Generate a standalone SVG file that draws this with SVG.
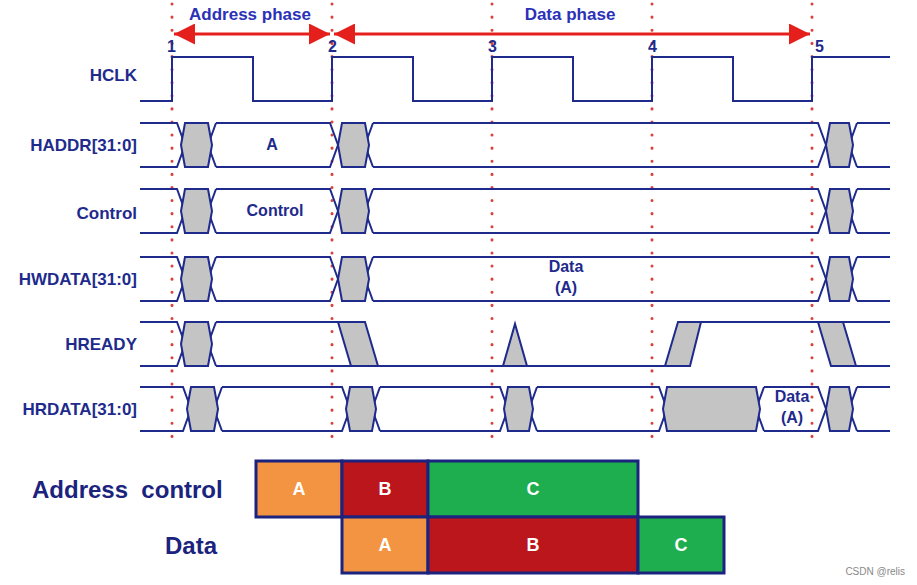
<svg xmlns="http://www.w3.org/2000/svg" width="917" height="585" viewBox="0 0 917 585">
<style>
.w{fill:none;stroke:#1e2a8c;stroke-width:2}
.g{fill:#c4c4c4;stroke:#1e2a8c;stroke-width:2}
.d{stroke:#d9423a;stroke-width:3;stroke-linecap:round;stroke-dasharray:0.1 13}
.lb{font-family:"Liberation Sans",Arial,sans-serif;font-weight:bold;font-size:17px;fill:#1e2a8c}
.n{font-family:"Liberation Sans",Arial,sans-serif;font-weight:bold;font-size:16px;fill:#1e2a8c}
.t{font-family:"Liberation Sans",Arial,sans-serif;font-weight:bold;font-size:16px;fill:#1e2a8c}
.ph{font-family:"Liberation Sans",Arial,sans-serif;font-weight:bold;font-size:17px;fill:#2b31b8}
.bx{stroke:#1b237e;stroke-width:3}
.bt{font-family:"Liberation Sans",Arial,sans-serif;font-weight:bold;font-size:18px;fill:#fff}
.big{font-family:"Liberation Sans",Arial,sans-serif;font-weight:bold;font-size:24px;fill:#1b237e}
</style>
<defs>
<marker id="ah" viewBox="0 0 10 10" refX="10" refY="5" markerWidth="7" markerHeight="7" orient="auto-start-reverse"><path d="M0,0L10,5L0,10z" fill="#e5201c"/></marker>
</defs>
<rect width="917" height="585" fill="#fff"/>
<g id="dots">
<line class="d" x1="172" y1="4" x2="172" y2="448"/>
<line class="d" x1="332" y1="4" x2="332" y2="448"/>
<line class="d" x1="492" y1="4" x2="492" y2="448"/>
<line class="d" x1="652" y1="4" x2="652" y2="448"/>
<line class="d" x1="812" y1="4" x2="812" y2="448"/>
</g>
<g id="phases">
<text class="ph" x="250" y="20" text-anchor="middle">Address phase</text>
<text class="ph" x="570" y="20" text-anchor="middle">Data phase</text>
<line x1="174" y1="34" x2="330" y2="34" stroke="#e5201c" stroke-width="3" marker-start="url(#ah)" marker-end="url(#ah)"/>
<line x1="334" y1="34" x2="810" y2="34" stroke="#e5201c" stroke-width="3" marker-start="url(#ah)" marker-end="url(#ah)"/>
<text class="n" x="167" y="52">1</text><text class="n" x="328" y="52">2</text><text class="n" x="488" y="52">3</text><text class="n" x="648" y="52">4</text><text class="n" x="815" y="52">5</text>
</g>
<g id="labels">
<text class="lb" x="137" y="81" text-anchor="end">HCLK</text>
<text class="lb" x="137" y="151" text-anchor="end">HADDR[31:0]</text>
<text class="lb" x="137" y="219" text-anchor="end">Control</text>
<text class="lb" x="137" y="285" text-anchor="end">HWDATA[31:0]</text>
<text class="lb" x="137" y="350" text-anchor="end">HREADY</text>
<text class="lb" x="137" y="415" text-anchor="end">HRDATA[31:0]</text>
</g>
<g id="hclk"><path class="w" d="M140,101H172V57H253V101H332V57H413V101H492V57H573V101H652V57H733V101H812V57H890"/></g>
<g id="haddr">
<path class="w" d="M140,123H177L185,145L177,167H140M216,123L208,145L216,167M216,123H330L338,145L330,167H216M373,123L365,145L373,167M373,123H818L826,145L818,167H373M857,123L849,145L857,167M857,123H890M857,167H890"/>
<path class="g" d="M181,145L185,123H208L212,145L208,167H185Z"/>
<path class="g" d="M338,145L342,123H365L369,145L365,167H342Z"/>
<path class="g" d="M826,145L830,123H849L853,145L849,167H830Z"/>
<text class="t" x="272" y="150" text-anchor="middle">A</text>
</g>
<g id="control">
<path class="w" d="M140,189H177L185,211L177,233H140M216,189L208,211L216,233M216,189H330L338,211L330,233H216M373,189L365,211L373,233M373,189H818L826,211L818,233H373M857,189L849,211L857,233M857,189H890M857,233H890"/>
<path class="g" d="M181,211L185,189H208L212,211L208,233H185Z"/>
<path class="g" d="M338,211L342,189H365L369,211L365,233H342Z"/>
<path class="g" d="M826,211L830,189H849L853,211L849,233H830Z"/>
<text class="t" x="275" y="216" text-anchor="middle">Control</text>
</g>
<g id="hwdata">
<path class="w" d="M140,257H177L185,279L177,301H140M216,257L208,279L216,301M216,257H330L338,279L330,301H216M373,257L365,279L373,301M373,257H818L826,279L818,301H373M857,257L849,279L857,301M857,257H890M857,301H890"/>
<path class="g" d="M181,279L185,257H208L212,279L208,301H185Z"/>
<path class="g" d="M338,279L342,257H365L369,279L365,301H342Z"/>
<path class="g" d="M826,279L830,257H849L853,279L849,301H830Z"/>
<text class="t" x="566" y="272" text-anchor="middle">Data</text>
<text class="t" x="566" y="293" text-anchor="middle">(A)</text>
</g>
<g id="hready">
<path class="w" d="M140,322H177L185,344L177,366H140M216,322L208,344L216,366M216,322H338M216,366H351M378,366H503M527,366H665M701,322H818M856,366H890M843,322H890"/>
<path class="g" d="M181,344L185,322H208L212,344L208,366H185Z"/>
<path class="g" d="M338,322H365L378,366H351Z"/>
<path class="g" d="M503,366L515,324L527,366Z"/>
<path class="g" d="M665,366L678,322H701L690,366Z"/>
<path class="g" d="M818,322H843L856,366H831Z"/>
</g>
<g id="hrdata">
<path class="w" d="M140,387H183L191,409L183,431H140M222,387L214,409L222,431M222,387H342L350,409L342,431H222M380,387L372,409L380,431M380,387H500L508,409L500,431H380M537,387L529,409L537,431M537,387H659L667,409L659,431H537M764,387L756,409L764,431M764,387H818L826,409L818,431H764M857,387L849,409L857,431M857,387H890M857,431H890"/>
<path class="g" d="M187,409L191,387H214L218,409L214,431H191Z"/>
<path class="g" d="M346,409L350,387H372L376,409L372,431H350Z"/>
<path class="g" d="M504,409L508,387H529L533,409L529,431H508Z"/>
<path class="g" d="M663,409L667,387H756L760,409L756,431H667Z"/>
<path class="g" d="M826,409L830,387H849L853,409L849,431H830Z"/>
<text class="t" x="792" y="402" text-anchor="middle">Data</text>
<text class="t" x="792" y="423" text-anchor="middle">(A)</text>
</g>
<g id="table">
<text class="big" x="32" y="498">Address&#160; control</text>
<text class="big" x="165" y="554">Data</text>
<rect class="bx" x="256" y="461" width="86" height="56" fill="#f39443"/>
<rect class="bx" x="342" y="461" width="86" height="56" fill="#ba161c"/>
<rect class="bx" x="428" y="461" width="210" height="56" fill="#1fae4f"/>
<rect class="bx" x="342" y="517" width="86" height="56" fill="#f39443"/>
<rect class="bx" x="428" y="517" width="210" height="56" fill="#ba161c"/>
<rect class="bx" x="638" y="517" width="86" height="56" fill="#1fae4f"/>
<text class="bt" x="299" y="495" text-anchor="middle">A</text>
<text class="bt" x="385" y="495" text-anchor="middle">B</text>
<text class="bt" x="533" y="495" text-anchor="middle">C</text>
<text class="bt" x="385" y="551" text-anchor="middle">A</text>
<text class="bt" x="533" y="551" text-anchor="middle">B</text>
<text class="bt" x="681" y="551" text-anchor="middle">C</text>
</g>
<text x="905" y="575" text-anchor="end" font-family="Liberation Sans,Arial,sans-serif" font-size="10" fill="#888">CSDN @relis</text>
</svg>
